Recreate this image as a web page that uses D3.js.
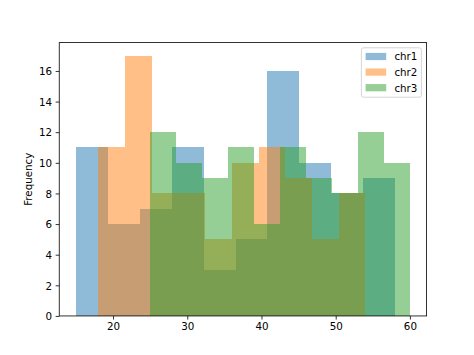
<!DOCTYPE html>
<html>
<head>
<meta charset="utf-8">
<script src="https://cdn.jsdelivr.net/npm/d3@7"></script>
<style>
  html, body { margin: 0; padding: 0; background: #fff; }
  svg { display: block; }
  text { font-family: "DejaVu Sans", sans-serif; }
</style>
</head>
<body>
<svg id="chart" width="474" height="355"></svg>
<script>
// ---- data ----
const seriesNames = ["chr1", "chr2", "chr3"];
const seriesColors = ["#1f77b4", "#ff7f0e", "#2ca02c"];
// bin range [min, max] of each series (10 equal bins each)
const chr1Range = [15, 58];
const chr2Range = [18, 54];
const chr3Range = [25, 60];
// counts per bin
const chr1Counts = [11, 6, 7, 11, 3, 5, 16, 10, 8, 9];
const chr2Counts = [11, 17, 8, 8, 5, 10, 11, 9, 5, 8];
const chr3Counts = [12, 10, 9, 11, 6, 11, 9, 8, 12, 10];
const xTicks = [20, 30, 40, 50, 60];
const yTicks = [0, 2, 4, 6, 8, 10, 12, 14, 16];
const yLabel = "Frequency";

(function () {
const ranges = [chr1Range, chr2Range, chr3Range];
const counts = [chr1Counts, chr2Counts, chr3Counts];

// ---- layout ----
const W = 474, H = 355;
const mLeft = 0.125 * W, mRight = 0.9 * W, mTop = 0.12 * H, mBottom = 0.89 * H;
const fs = 10.3;

const svg = d3.select("#chart");

const allMin = d3.min(ranges, r => r[0]);
const allMax = d3.max(ranges, r => r[1]);
const pad = (allMax - allMin) * 0.05;
const x = d3.scaleLinear().domain([allMin - pad, allMax + pad]).range([mLeft, mRight]);
const yMax = d3.max(counts, c => d3.max(c)) * 1.05;
const y = d3.scaleLinear().domain([0, yMax]).range([mBottom, mTop]);

// bars
const gBars = svg.append("g").attr("shape-rendering", "crispEdges");
counts.forEach((cs, si) => {
  const [lo, hi] = ranges[si];
  const n = cs.length;
  const bins = cs.map((c, i) => ({
    x0: lo + (hi - lo) * i / n,
    x1: lo + (hi - lo) * (i + 1) / n,
    c
  }));
  gBars.append("g").selectAll("rect").data(bins).join("rect")
    .attr("x", d => x(d.x0))
    .attr("width", d => x(d.x1) - x(d.x0))
    .attr("y", d => y(d.c))
    .attr("height", d => y(0) - y(d.c))
    .attr("fill", seriesColors[si])
    .attr("fill-opacity", 0.5);
});

// axes
const xAxis = d3.axisBottom(x).tickValues(xTicks).tickSize(3.6).tickPadding(3.6).tickFormat(d3.format("d"));
const yAxis = d3.axisLeft(y).tickValues(yTicks).tickSize(3.6).tickPadding(3.6).tickFormat(d3.format("d"));

const gx = svg.append("g").attr("transform", `translate(0,${mBottom})`).call(xAxis);
const gy = svg.append("g").attr("transform", `translate(${mLeft},0)`).call(yAxis);
[gx, gy].forEach(g => {
  g.select(".domain").remove();
  g.selectAll(".tick line").attr("stroke", "#000").attr("stroke-width", 0.8);
  g.selectAll(".tick text").attr("fill", "#000").attr("font-size", fs)
    .attr("font-family", "DejaVu Sans, sans-serif");
});
gx.selectAll(".tick text").attr("dy", null).attr("y", 14.5);
gy.selectAll(".tick text").attr("dy", "0.36em");

// frame
svg.append("rect")
  .attr("x", mLeft).attr("y", mTop)
  .attr("width", mRight - mLeft).attr("height", mBottom - mTop)
  .attr("fill", "none").attr("stroke", "#000").attr("stroke-width", 0.8);

// y label
svg.append("text")
  .attr("transform", `translate(32,${(mTop + mBottom) / 2}) rotate(-90)`)
  .attr("text-anchor", "middle")
  .attr("font-size", fs)
  .attr("fill", "#000")
  .text(yLabel);

// legend
const lgW = 60, lgH = 49.4;
const lgX = mRight - 5.2 - lgW, lgY = mTop + 5.2;
const lg = svg.append("g");
lg.append("rect")
  .attr("x", lgX).attr("y", lgY).attr("width", lgW).attr("height", lgH)
  .attr("rx", 2).attr("ry", 2)
  .attr("fill", "#fff").attr("fill-opacity", 0.8)
  .attr("stroke", "#cccccc").attr("stroke-width", 0.8);
seriesNames.forEach((name, i) => {
  const cy = lgY + 8.7 + i * 15.6;
  lg.append("rect")
    .attr("x", lgX + 4.2).attr("y", cy - 3.6)
    .attr("width", 20.6).attr("height", 7.2)
    .attr("fill", seriesColors[i]).attr("fill-opacity", 0.5);
  lg.append("text")
    .attr("x", lgX + 4.2 + 20.6 + 8.2).attr("y", cy + 3.8)
    .attr("font-size", fs).attr("fill", "#000")
    .text(name);
});
})();
</script>
</body>
</html>
